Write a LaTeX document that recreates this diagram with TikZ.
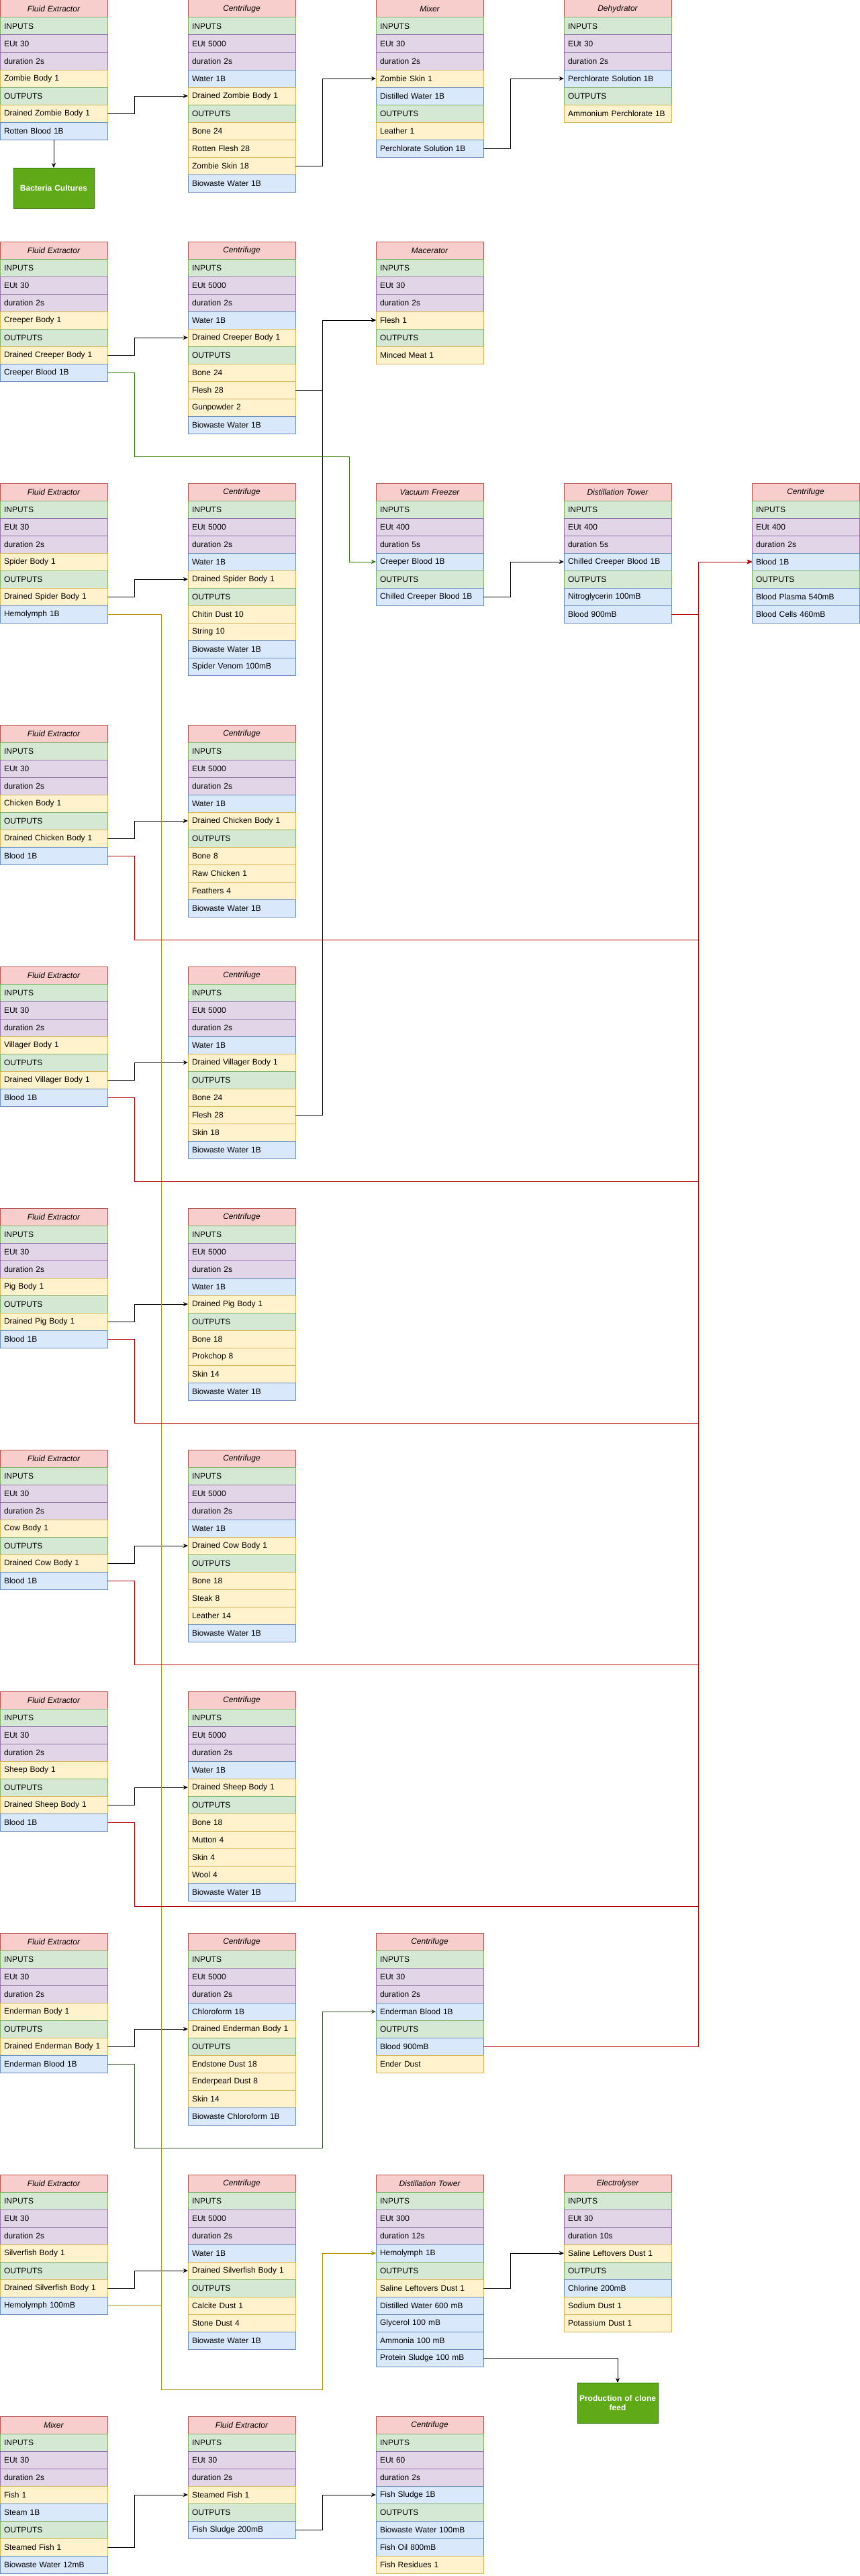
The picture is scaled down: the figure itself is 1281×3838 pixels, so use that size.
\documentclass[tikz,border=0pt]{standalone}
\usepackage{fontspec}
\setmainfont{Liberation Sans}
\usepackage{xcolor}
\usepackage{tikz}
\usetikzlibrary{arrows.meta,positioning}

\definecolor{headfill}{HTML}{F8CECC}
\definecolor{headline}{HTML}{B85450}
\definecolor{secfill}{HTML}{D5E8D4}
\definecolor{secline}{HTML}{82B366}
\definecolor{prmfill}{HTML}{E1D5E7}
\definecolor{prmline}{HTML}{9673A6}
\definecolor{itmfill}{HTML}{FFF2CC}
\definecolor{itmline}{HTML}{D6B656}
\definecolor{fldfill}{HTML}{DAE8FC}
\definecolor{fldline}{HTML}{6C8EBF}
\definecolor{notefill}{HTML}{60A917}
\definecolor{noteline}{HTML}{2D7600}
\definecolor{bloodline}{HTML}{B20000}
\definecolor{goldline}{HTML}{B09500}
\definecolor{oliveline}{HTML}{3A5431}

% one machine: title row, then one row per entry
\newcommand{\recipebox}[4]{%
  \node[head] (#1-0) at (#2) {#3};
  \foreach \kind/\txt [count=\i] in {#4} {
    \pgfmathtruncatemacro{\prev}{\i-1}
    \node[\kind, below=0pt of #1-\prev] (#1-\i) {\txt};
  }
}

\begin{document}
\begin{tikzpicture}[
    x=1pt, y=-1pt, line width=1pt,
    cell/.style={draw, rectangle, minimum height=26pt, text width=148pt, inner xsep=6pt, inner ysep=0pt, outer sep=0pt, align=left, font=\fontsize{12}{14}\selectfont},
    head/.style={cell, anchor=north west, fill=headfill, draw=headline, align=center, font=\fontsize{12}{14}\selectfont\itshape},
    sec/.style={cell, fill=secfill, draw=secline},
    prm/.style={cell, fill=prmfill, draw=prmline},
    itm/.style={cell, fill=itmfill, draw=itmline},
    fld/.style={cell, fill=fldfill, draw=fldline},
    note/.style={draw=noteline, fill=notefill, text=white, minimum width=120pt, minimum height=60pt, text width=116pt, inner sep=2pt, outer sep=0pt, align=center, font=\fontsize{12}{14}\selectfont\bfseries},
    link/.style={->, >={Stealth[length=7pt,width=6pt,inset=2pt]}},
    blood/.style={link, draw=bloodline},
    gold/.style={link, draw=goldline},
    olive/.style={link, draw=oliveline},
    creeper/.style={link, draw=noteline}
]
\useasboundingbox (0,0) rectangle (1281,3838);

% zombie
\recipebox{fe1}{0,0}{Fluid Extractor}{sec/INPUTS, prm/EUt 30, prm/duration 2s, itm/Zombie Body 1, sec/OUTPUTS, itm/Drained Zombie Body 1, fld/Rotten Blood 1B}
\recipebox{cf1}{280,0}{Centrifuge}{sec/INPUTS, prm/EUt 5000, prm/duration 2s, fld/Water 1B, itm/Drained Zombie Body 1, sec/OUTPUTS, itm/Bone 24, itm/Rotten Flesh 28, itm/Zombie Skin 18, fld/Biowaste Water 1B}
\recipebox{mx1}{560,0}{Mixer}{sec/INPUTS, prm/EUt 30, prm/duration 2s, itm/Zombie Skin 1, fld/Distilled Water 1B, sec/OUTPUTS, itm/Leather 1, fld/Perchlorate Solution 1B}
\recipebox{dh1}{840,0}{Dehydrator}{sec/INPUTS, prm/EUt 30, prm/duration 2s, fld/Perchlorate Solution 1B, sec/OUTPUTS, itm/Ammonium Perchlorate 1B}
\node[note, below=42pt of fe1-7] (bact) {Bacteria Cultures};

% creeper
\recipebox{fe2}{0,360}{Fluid Extractor}{sec/INPUTS, prm/EUt 30, prm/duration 2s, itm/Creeper Body 1, sec/OUTPUTS, itm/Drained Creeper Body 1, fld/Creeper Blood 1B}
\recipebox{cf2}{280,360}{Centrifuge}{sec/INPUTS, prm/EUt 5000, prm/duration 2s, fld/Water 1B, itm/Drained Creeper Body 1, sec/OUTPUTS, itm/Bone 24, itm/Flesh 28, itm/Gunpowder 2, fld/Biowaste Water 1B}
\recipebox{mc2}{560,360}{Macerator}{sec/INPUTS, prm/EUt 30, prm/duration 2s, itm/Flesh 1, sec/OUTPUTS, itm/Minced Meat 1}

% spider
\recipebox{fe3}{0,720}{Fluid Extractor}{sec/INPUTS, prm/EUt 30, prm/duration 2s, itm/Spider Body 1, sec/OUTPUTS, itm/Drained Spider Body 1, fld/Hemolymph 1B}
\recipebox{cf3}{280,720}{Centrifuge}{sec/INPUTS, prm/EUt 5000, prm/duration 2s, fld/Water 1B, itm/Drained Spider Body 1, sec/OUTPUTS, itm/Chitin Dust 10, itm/String 10, fld/Biowaste Water 1B, fld/Spider Venom 100mB}
\recipebox{vf3}{560,720}{Vacuum Freezer}{sec/INPUTS, prm/EUt 400, prm/duration 5s, fld/Creeper Blood 1B, sec/OUTPUTS, fld/Chilled Creeper Blood 1B}
\recipebox{dt3}{840,720}{Distillation Tower}{sec/INPUTS, prm/EUt 400, prm/duration 5s, fld/Chilled Creeper Blood 1B, sec/OUTPUTS, fld/Nitroglycerin 100mB, fld/Blood 900mB}
\recipebox{cb3}{1120,720}{Centrifuge}{sec/INPUTS, prm/EUt 400, prm/duration 2s, fld/Blood 1B, sec/OUTPUTS, fld/Blood Plasma 540mB, fld/Blood Cells 460mB}

% chicken
\recipebox{fe4}{0,1080}{Fluid Extractor}{sec/INPUTS, prm/EUt 30, prm/duration 2s, itm/Chicken Body 1, sec/OUTPUTS, itm/Drained Chicken Body 1, fld/Blood 1B}
\recipebox{cf4}{280,1080}{Centrifuge}{sec/INPUTS, prm/EUt 5000, prm/duration 2s, fld/Water 1B, itm/Drained Chicken Body 1, sec/OUTPUTS, itm/Bone 8, itm/Raw Chicken 1, itm/Feathers 4, fld/Biowaste Water 1B}

% villager
\recipebox{fe5}{0,1440}{Fluid Extractor}{sec/INPUTS, prm/EUt 30, prm/duration 2s, itm/Villager Body 1, sec/OUTPUTS, itm/Drained Villager Body 1, fld/Blood 1B}
\recipebox{cf5}{280,1440}{Centrifuge}{sec/INPUTS, prm/EUt 5000, prm/duration 2s, fld/Water 1B, itm/Drained Villager Body 1, sec/OUTPUTS, itm/Bone 24, itm/Flesh 28, itm/Skin 18, fld/Biowaste Water 1B}

% pig
\recipebox{fe6}{0,1800}{Fluid Extractor}{sec/INPUTS, prm/EUt 30, prm/duration 2s, itm/Pig Body 1, sec/OUTPUTS, itm/Drained Pig Body 1, fld/Blood 1B}
\recipebox{cf6}{280,1800}{Centrifuge}{sec/INPUTS, prm/EUt 5000, prm/duration 2s, fld/Water 1B, itm/Drained Pig Body 1, sec/OUTPUTS, itm/Bone 18, itm/Prokchop 8, itm/Skin 14, fld/Biowaste Water 1B}

% cow
\recipebox{fe7}{0,2160}{Fluid Extractor}{sec/INPUTS, prm/EUt 30, prm/duration 2s, itm/Cow Body 1, sec/OUTPUTS, itm/Drained Cow Body 1, fld/Blood 1B}
\recipebox{cf7}{280,2160}{Centrifuge}{sec/INPUTS, prm/EUt 5000, prm/duration 2s, fld/Water 1B, itm/Drained Cow Body 1, sec/OUTPUTS, itm/Bone 18, itm/Steak 8, itm/Leather 14, fld/Biowaste Water 1B}

% sheep
\recipebox{fe8}{0,2520}{Fluid Extractor}{sec/INPUTS, prm/EUt 30, prm/duration 2s, itm/Sheep Body 1, sec/OUTPUTS, itm/Drained Sheep Body 1, fld/Blood 1B}
\recipebox{cf8}{280,2520}{Centrifuge}{sec/INPUTS, prm/EUt 5000, prm/duration 2s, fld/Water 1B, itm/Drained Sheep Body 1, sec/OUTPUTS, itm/Bone 18, itm/Mutton 4, itm/Skin 4, itm/Wool 4, fld/Biowaste Water 1B}

% enderman
\recipebox{fe9}{0,2880}{Fluid Extractor}{sec/INPUTS, prm/EUt 30, prm/duration 2s, itm/Enderman Body 1, sec/OUTPUTS, itm/Drained Enderman Body 1, fld/Enderman Blood 1B}
\recipebox{cf9}{280,2880}{Centrifuge}{sec/INPUTS, prm/EUt 5000, prm/duration 2s, fld/Chloroform 1B, itm/Drained Enderman Body 1, sec/OUTPUTS, itm/Endstone Dust 18, itm/Enderpearl Dust 8, itm/Skin 14, fld/Biowaste Chloroform 1B}
\recipebox{ce9}{560,2880}{Centrifuge}{sec/INPUTS, prm/EUt 30, prm/duration 2s, fld/Enderman Blood 1B, sec/OUTPUTS, fld/Blood 900mB, itm/Ender Dust}

% silverfish
\recipebox{fe10}{0,3240}{Fluid Extractor}{sec/INPUTS, prm/EUt 30, prm/duration 2s, itm/Silverfish Body 1, sec/OUTPUTS, itm/Drained Silverfish Body 1, fld/Hemolymph 100mB}
\recipebox{cf10}{280,3240}{Centrifuge}{sec/INPUTS, prm/EUt 5000, prm/duration 2s, fld/Water 1B, itm/Drained Silverfish Body 1, sec/OUTPUTS, itm/Calcite Dust 1, itm/Stone Dust 4, fld/Biowaste Water 1B}
\recipebox{dt10}{560,3240}{Distillation Tower}{sec/INPUTS, prm/EUt 300, prm/duration 12s, fld/Hemolymph 1B, sec/OUTPUTS, itm/Saline Leftovers Dust 1, fld/Distilled Water 600 mB, fld/Glycerol 100 mB, fld/Ammonia 100 mB, fld/Protein Sludge 100 mB}
\recipebox{el10}{840,3240}{Electrolyser}{sec/INPUTS, prm/EUt 30, prm/duration 10s, itm/Saline Leftovers Dust 1, sec/OUTPUTS, fld/Chlorine 200mB, itm/Sodium Dust 1, itm/Potassium Dust 1}
\node[note] (feed) at (920,3580) {Production of clone\\feed};

% fish
\recipebox{mx11}{0,3600}{Mixer}{sec/INPUTS, prm/EUt 30, prm/duration 2s, itm/Fish 1, fld/Steam 1B, sec/OUTPUTS, itm/Steamed Fish 1, fld/Biowaste Water 12mB}
\recipebox{fe11}{280,3600}{Fluid Extractor}{sec/INPUTS, prm/EUt 30, prm/duration 2s, itm/Steamed Fish 1, sec/OUTPUTS, fld/Fish Sludge 200mB}
\recipebox{cf11}{560,3600}{Centrifuge}{sec/INPUTS, prm/EUt 60, prm/duration 2s, fld/Fish Sludge 1B, sec/OUTPUTS, fld/Biowaste Water 100mB, fld/Fish Oil 800mB, itm/Fish Residues 1}

% item links
\draw[link] (fe1-7.south) -- (bact.north);
\draw[link] (fe1-6.east) -- ++(40,0) |- (cf1-5.west);
\draw[link] (cf1-9.east) -- ++(40,0) |- (mx1-4.west);
\draw[link] (mx1-8.east) -- ++(40,0) |- (dh1-4.west);
\draw[link] (fe2-6.east) -- ++(40,0) |- (cf2-5.west);
\draw[link] (cf2-8.east) -- ++(40,0) |- (mc2-4.west);
\draw[link] (fe3-6.east) -- ++(40,0) |- (cf3-5.west);
\draw[link] (vf3-6.east) -- ++(40,0) |- (dt3-4.west);
\draw[link] (fe4-6.east) -- ++(40,0) |- (cf4-5.west);
\draw[link] (fe5-6.east) -- ++(40,0) |- (cf5-5.west);
\draw[link] (cf5-8.east) -- ++(40,0) |- (mc2-4.west);
\draw[link] (fe6-6.east) -- ++(40,0) |- (cf6-5.west);
\draw[link] (fe7-6.east) -- ++(40,0) |- (cf7-5.west);
\draw[link] (fe8-6.east) -- ++(40,0) |- (cf8-5.west);
\draw[link] (fe9-6.east) -- ++(40,0) |- (cf9-5.west);
\draw[link] (fe10-6.east) -- ++(40,0) |- (cf10-5.west);
\draw[link] (dt10-6.east) -- ++(40,0) |- (el10-4.west);
\draw[link] (dt10-10.east) -| (feed.north);
\draw[link] (mx11-7.east) -- ++(40,0) |- (fe11-4.west);
\draw[link] (fe11-6.east) -- ++(40,0) |- (cf11-4.west);

% fluid lines
\draw[creeper] (fe2-7.east) -- ++(40,0) -- ++(0,125) -| ([xshift=-40pt]vf3-4.west) -- (vf3-4.west);
\draw[olive] (fe9-7.east) -- ++(40,0) -- ++(0,125) -| ([xshift=-80pt]ce9-4.west) -- (ce9-4.west);
\draw[gold] (fe3-7.east) -- ++(80,0) -- ++(0,2645) -| ([xshift=-80pt]dt10-4.west) -- (dt10-4.west);
\draw[gold] (fe10-7.east) -- ++(80,0) -- ++(0,125) -| ([xshift=-80pt]dt10-4.west) -- (dt10-4.west);

% blood bus
\draw[blood] (dt3-7.east) -- ++(40,0) |- (cb3-4.west);
\draw[blood] (ce9-6.east) -| ([xshift=-80pt]cb3-4.west) -- (cb3-4.west);
\foreach \b in {fe4,fe5,fe6,fe7,fe8}
  \draw[blood] (\b-7.east) -- ++(40,0) -- ++(0,125) -| ([xshift=-80pt]cb3-4.west) -- (cb3-4.west);

\end{tikzpicture}
\end{document}
